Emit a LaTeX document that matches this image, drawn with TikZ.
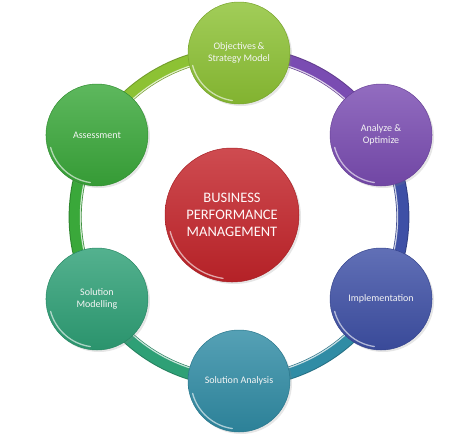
\documentclass[tikz,border=0pt]{standalone}
\usepackage{fontspec}
\setmainfont{Carlito}
\usetikzlibrary{backgrounds,shadows,calc}

\definecolor{objgreen}{RGB}{141,194,52}
\definecolor{anapurple}{RGB}{122,76,178}
\definecolor{impblue}{RGB}{62,80,166}
\definecolor{soateal}{RGB}{48,140,165}
\definecolor{modgreen}{RGB}{46,160,118}
\definecolor{assgreen}{RGB}{58,168,58}
\definecolor{bpmred}{RGB}{196,36,42}

\tikzset{
  bubble/.style={circle, minimum size=102pt, inner sep=0pt, align=center,
    text=white!92!gray, font=\fontsize{10}{11.5}\selectfont,
    top color=#1!82!white, bottom color=#1!92!black, draw=#1!85!black, line width=0.5pt,
    drop shadow={opacity=0.2, shadow xshift=2pt, shadow yshift=-2pt}},
  tube/.style={line width=13pt, draw=#1!80!black},
  tubebody/.style={line width=11pt, draw=#1},
  tubegloss/.style={line width=1.2pt, draw=white, opacity=0.75},
  rim/.style={draw=white, opacity=0.6, line width=1.3pt, line cap=round},
}

\begin{document}
\begin{tikzpicture}[x=1pt, y=1pt]
\useasboundingbox (-239,-223) rectangle (223,217);
\coordinate (ring) at (0,0);

%nodes of the cycle
\node[bubble=objgreen]  (obj) at (90:164)   {Objectives\,\&\\Strategy Model};
\node[bubble=anapurple] (ana) at (30:164)   {Analyze \&\\Optimize};
\node[bubble=impblue]   (imp) at (-30:164)  {Implementation};
\node[bubble=soateal]   (soa) at (-90:164)  {Solution Analysis};
\node[bubble=modgreen]  (mod) at (-150:164) {Solution\\Modelling};
\node[bubble=assgreen]  (ass) at (150:164)  {Assessment};

%center
\node[bubble=bpmred, minimum size=134pt, font=\fontsize{14.5}{17}\selectfont,
  text=white!90!pink] (bpm) at (-7,2) {BUSINESS\\PERFORMANCE\\MANAGEMENT};

%ring
\begin{scope}[on background layer]
\foreach \a/\b/\c in {obj/ana/anapurple, ana/imp/impblue, imp/soa/soateal,
                      soa/mod/modgreen, mod/ass/assgreen, ass/obj/objgreen}
{
  \draw[tube=\c] (\a.center) to[bend left=30, looseness=0.91] (\b.center);
  \draw[tubebody=\c] (\a.center) to[bend left=30, looseness=0.91] (\b.center);
  \draw[tubegloss] ($(ring)!0.968!(\a.center)$) to[bend left=30, looseness=0.91] ($(ring)!0.968!(\b.center)$);
}
\end{scope}

%highlights
\foreach \n/\r in {obj/48, ana/48, imp/48, soa/48, mod/48, ass/48, bpm/64}
  \draw[rim] (\n.center) ++(195:\r) arc[start angle=195, end angle=262, radius=\r];

\end{tikzpicture}
\end{document}
